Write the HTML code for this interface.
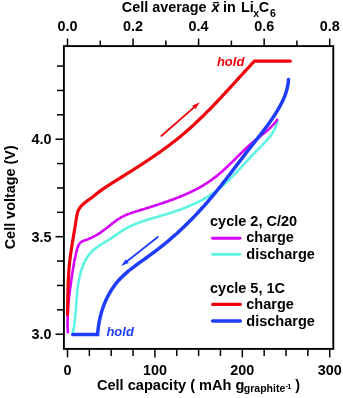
<!DOCTYPE html>
<html><head><meta charset="utf-8"><style>
html,body{margin:0;padding:0;background:#fff;}
body{width:343px;height:398px;overflow:hidden;}
svg{display:block;font-family:'Liberation Sans', Arial, sans-serif;}
</style></head><body>
<svg width="343" height="398" viewBox="0 0 343 398">
<rect width="343" height="398" fill="#fff"/>
<rect x="63.9" y="46.1" width="269.4" height="302.8" fill="none" stroke="#000" stroke-width="1.9"/>
<line x1="67.50" y1="348.9" x2="67.50" y2="357.40" stroke="#000" stroke-width="1.5"/>
<line x1="89.35" y1="348.9" x2="89.35" y2="355.90" stroke="#000" stroke-width="1.5"/>
<line x1="111.20" y1="348.9" x2="111.20" y2="355.90" stroke="#000" stroke-width="1.5"/>
<line x1="133.06" y1="348.9" x2="133.06" y2="355.90" stroke="#000" stroke-width="1.5"/>
<line x1="154.91" y1="348.9" x2="154.91" y2="357.40" stroke="#000" stroke-width="1.5"/>
<line x1="176.76" y1="348.9" x2="176.76" y2="355.90" stroke="#000" stroke-width="1.5"/>
<line x1="198.61" y1="348.9" x2="198.61" y2="355.90" stroke="#000" stroke-width="1.5"/>
<line x1="220.46" y1="348.9" x2="220.46" y2="355.90" stroke="#000" stroke-width="1.5"/>
<line x1="242.31" y1="348.9" x2="242.31" y2="357.40" stroke="#000" stroke-width="1.5"/>
<line x1="264.17" y1="348.9" x2="264.17" y2="355.90" stroke="#000" stroke-width="1.5"/>
<line x1="286.02" y1="348.9" x2="286.02" y2="355.90" stroke="#000" stroke-width="1.5"/>
<line x1="307.87" y1="348.9" x2="307.87" y2="355.90" stroke="#000" stroke-width="1.5"/>
<line x1="329.72" y1="348.9" x2="329.72" y2="357.40" stroke="#000" stroke-width="1.5"/>
<line x1="67.50" y1="46.1" x2="67.50" y2="38.60" stroke="#000" stroke-width="1.5"/>
<line x1="100.28" y1="46.1" x2="100.28" y2="40.60" stroke="#000" stroke-width="1.5"/>
<line x1="133.05" y1="46.1" x2="133.05" y2="38.60" stroke="#000" stroke-width="1.5"/>
<line x1="165.83" y1="46.1" x2="165.83" y2="40.60" stroke="#000" stroke-width="1.5"/>
<line x1="198.60" y1="46.1" x2="198.60" y2="38.60" stroke="#000" stroke-width="1.5"/>
<line x1="231.38" y1="46.1" x2="231.38" y2="40.60" stroke="#000" stroke-width="1.5"/>
<line x1="264.15" y1="46.1" x2="264.15" y2="38.60" stroke="#000" stroke-width="1.5"/>
<line x1="296.93" y1="46.1" x2="296.93" y2="40.60" stroke="#000" stroke-width="1.5"/>
<line x1="329.70" y1="46.1" x2="329.70" y2="38.60" stroke="#000" stroke-width="1.5"/>
<line x1="63.9" y1="334.20" x2="55.50" y2="334.20" stroke="#000" stroke-width="1.5"/>
<line x1="63.9" y1="309.82" x2="57.00" y2="309.82" stroke="#000" stroke-width="1.5"/>
<line x1="63.9" y1="285.45" x2="57.00" y2="285.45" stroke="#000" stroke-width="1.5"/>
<line x1="63.9" y1="261.07" x2="57.00" y2="261.07" stroke="#000" stroke-width="1.5"/>
<line x1="63.9" y1="236.70" x2="55.50" y2="236.70" stroke="#000" stroke-width="1.5"/>
<line x1="63.9" y1="212.32" x2="57.00" y2="212.32" stroke="#000" stroke-width="1.5"/>
<line x1="63.9" y1="187.95" x2="57.00" y2="187.95" stroke="#000" stroke-width="1.5"/>
<line x1="63.9" y1="163.57" x2="57.00" y2="163.57" stroke="#000" stroke-width="1.5"/>
<line x1="63.9" y1="139.20" x2="55.50" y2="139.20" stroke="#000" stroke-width="1.5"/>
<line x1="63.9" y1="114.82" x2="57.00" y2="114.82" stroke="#000" stroke-width="1.5"/>
<line x1="63.9" y1="90.45" x2="57.00" y2="90.45" stroke="#000" stroke-width="1.5"/>
<line x1="63.9" y1="66.07" x2="57.00" y2="66.07" stroke="#000" stroke-width="1.5"/>
<path d="M277.40,120.80 C277.32,121.14 277.11,122.20 276.94,122.88 C276.76,123.56 276.57,124.22 276.36,124.87 C276.14,125.53 275.91,126.16 275.67,126.79 C275.42,127.41 275.16,128.03 274.88,128.63 C274.60,129.23 274.31,129.82 274.00,130.40 C273.70,130.98 273.37,131.55 273.04,132.11 C272.70,132.67 272.36,133.22 272.00,133.77 C271.64,134.31 271.27,134.84 270.88,135.37 C270.50,135.90 270.11,136.41 269.71,136.93 C269.31,137.44 268.90,137.95 268.48,138.45 C268.06,138.95 267.63,139.44 267.20,139.93 C266.76,140.43 266.32,140.91 265.88,141.40 C265.43,141.88 264.98,142.36 264.52,142.84 C264.07,143.31 263.61,143.79 263.14,144.26 C262.68,144.73 262.21,145.20 261.74,145.68 C261.27,146.15 260.80,146.62 260.33,147.09 C259.86,147.56 259.38,148.03 258.91,148.50 C258.44,148.98 257.97,149.45 257.50,149.93 C257.03,150.41 256.56,150.89 256.09,151.37 C255.62,151.85 255.16,152.33 254.69,152.81 C254.22,153.30 253.76,153.79 253.30,154.27 C252.83,154.76 252.37,155.25 251.91,155.74 C251.44,156.23 250.98,156.72 250.52,157.21 C250.06,157.71 249.60,158.20 249.14,158.69 C248.68,159.19 248.22,159.68 247.76,160.18 C247.30,160.67 246.84,161.17 246.38,161.67 C245.92,162.16 245.46,162.66 245.00,163.16 C244.54,163.65 244.08,164.15 243.62,164.64 C243.16,165.14 242.70,165.64 242.24,166.13 C241.78,166.63 241.32,167.12 240.86,167.61 C240.40,168.11 239.94,168.60 239.47,169.09 C239.01,169.59 238.55,170.08 238.08,170.57 C237.62,171.06 237.15,171.55 236.69,172.03 C236.22,172.52 235.75,173.01 235.28,173.49 C234.81,173.98 234.34,174.46 233.87,174.94 C233.40,175.42 232.93,175.90 232.45,176.38 C231.98,176.85 231.50,177.33 231.03,177.80 C230.55,178.27 230.07,178.74 229.59,179.21 C229.10,179.67 228.62,180.14 228.14,180.60 C227.65,181.06 227.16,181.52 226.67,181.97 C226.18,182.43 225.69,182.88 225.20,183.33 C224.70,183.78 224.21,184.22 223.71,184.66 C223.21,185.11 222.71,185.54 222.20,185.98 C221.70,186.41 221.19,186.84 220.68,187.27 C220.17,187.69 219.66,188.12 219.15,188.53 C218.63,188.95 218.11,189.36 217.59,189.77 C217.07,190.18 216.54,190.58 216.01,190.98 C215.49,191.38 214.95,191.78 214.42,192.17 C213.88,192.55 213.35,192.94 212.80,193.32 C212.26,193.70 211.72,194.07 211.17,194.44 C210.62,194.81 210.06,195.17 209.51,195.53 C208.95,195.88 208.39,196.24 207.83,196.59 C207.27,196.93 206.70,197.28 206.13,197.61 C205.56,197.95 204.99,198.29 204.41,198.61 C203.84,198.94 203.26,199.27 202.68,199.59 C202.10,199.90 201.51,200.22 200.92,200.53 C200.34,200.84 199.75,201.15 199.16,201.45 C198.56,201.75 197.97,202.05 197.37,202.34 C196.77,202.64 196.17,202.92 195.57,203.21 C194.97,203.50 194.37,203.78 193.76,204.05 C193.15,204.33 192.54,204.61 191.93,204.88 C191.32,205.15 190.71,205.41 190.10,205.68 C189.48,205.94 188.87,206.20 188.25,206.45 C187.63,206.71 187.01,206.96 186.39,207.21 C185.77,207.46 185.14,207.71 184.52,207.95 C183.89,208.19 183.27,208.43 182.64,208.67 C182.01,208.91 181.38,209.14 180.76,209.37 C180.13,209.61 179.49,209.83 178.86,210.06 C178.23,210.29 177.60,210.51 176.96,210.73 C176.33,210.95 175.69,211.17 175.06,211.38 C174.42,211.60 173.79,211.81 173.15,212.02 C172.51,212.23 171.87,212.44 171.24,212.65 C170.60,212.86 169.96,213.06 169.32,213.26 C168.68,213.47 168.04,213.67 167.40,213.87 C166.76,214.06 166.12,214.26 165.48,214.46 C164.84,214.65 164.20,214.85 163.56,215.04 C162.92,215.23 162.28,215.42 161.64,215.61 C161.00,215.80 160.36,215.99 159.72,216.17 C159.08,216.36 158.44,216.54 157.81,216.73 C157.17,216.91 156.53,217.10 155.89,217.28 C155.25,217.47 154.62,217.65 153.98,217.83 C153.35,218.02 152.71,218.20 152.08,218.39 C151.44,218.58 150.81,218.76 150.18,218.95 C149.54,219.14 148.91,219.33 148.28,219.53 C147.65,219.72 147.02,219.91 146.39,220.11 C145.77,220.31 145.14,220.51 144.51,220.71 C143.89,220.92 143.27,221.12 142.64,221.33 C142.02,221.55 141.40,221.76 140.78,221.98 C140.16,222.20 139.55,222.42 138.93,222.65 C138.32,222.88 137.70,223.11 137.09,223.35 C136.48,223.59 135.87,223.83 135.26,224.08 C134.66,224.33 134.05,224.59 133.45,224.85 C132.85,225.12 132.24,225.39 131.65,225.66 C131.05,225.94 130.45,226.22 129.86,226.52 C129.27,226.81 128.68,227.11 128.09,227.42 C127.50,227.72 126.91,228.04 126.33,228.36 C125.75,228.69 125.17,229.02 124.59,229.36 C124.02,229.71 123.44,230.06 122.87,230.41 C122.29,230.77 121.72,231.13 121.15,231.50 C120.59,231.86 120.02,232.24 119.45,232.61 C118.88,232.99 118.32,233.37 117.75,233.75 C117.19,234.13 116.62,234.51 116.06,234.90 C115.49,235.28 114.93,235.67 114.37,236.06 C113.80,236.44 113.24,236.83 112.67,237.21 C112.10,237.60 111.54,237.98 110.97,238.36 C110.40,238.74 109.83,239.12 109.26,239.49 C108.69,239.86 108.12,240.23 107.54,240.59 C106.97,240.95 106.39,241.31 105.82,241.66 C105.24,242.02 104.66,242.37 104.08,242.71 C103.51,243.06 102.93,243.41 102.36,243.76 C101.79,244.11 101.22,244.45 100.66,244.80 C100.10,245.16 99.54,245.51 98.99,245.87 C98.45,246.23 97.90,246.59 97.37,246.97 C96.84,247.34 96.32,247.72 95.80,248.11 C95.29,248.50 94.79,248.89 94.31,249.31 C93.82,249.72 93.34,250.14 92.88,250.57 C92.42,251.01 91.97,251.45 91.54,251.91 C91.10,252.37 90.68,252.84 90.27,253.32 C89.85,253.80 89.46,254.29 89.07,254.80 C88.68,255.30 88.31,255.82 87.94,256.35 C87.58,256.88 87.23,257.42 86.89,257.97 C86.55,258.52 86.22,259.08 85.90,259.65 C85.58,260.22 85.28,260.79 84.98,261.38 C84.69,261.96 84.40,262.55 84.13,263.14 C83.85,263.73 83.59,264.33 83.34,264.93 C83.08,265.54 82.84,266.14 82.60,266.75 C82.37,267.37 82.15,267.98 81.93,268.60 C81.71,269.22 81.51,269.85 81.31,270.48 C81.11,271.10 80.92,271.74 80.74,272.37 C80.56,273.01 80.39,273.65 80.22,274.29 C80.05,274.93 79.90,275.58 79.75,276.23 C79.59,276.88 79.45,277.53 79.31,278.18 C79.17,278.84 79.04,279.50 78.92,280.16 C78.79,280.82 78.68,281.48 78.56,282.15 C78.45,282.81 78.34,283.48 78.24,284.15 C78.14,284.82 78.04,285.49 77.95,286.16 C77.85,286.84 77.77,287.51 77.68,288.19 C77.60,288.87 77.52,289.54 77.44,290.22 C77.37,290.90 77.29,291.58 77.22,292.27 C77.15,292.95 77.09,293.63 77.02,294.31 C76.96,295.00 76.90,295.68 76.84,296.37 C76.78,297.05 76.73,297.74 76.67,298.42 C76.61,299.11 76.56,299.79 76.51,300.48 C76.46,301.16 76.41,301.85 76.36,302.54 C76.31,303.22 76.26,303.91 76.21,304.59 C76.16,305.28 76.11,305.96 76.06,306.64 C76.01,307.33 75.96,308.01 75.91,308.69 C75.86,309.37 75.81,310.05 75.75,310.73 C75.70,311.41 75.65,312.09 75.59,312.76 C75.53,313.44 75.48,314.11 75.42,314.78 C75.36,315.46 75.29,316.13 75.23,316.79 C75.16,317.46 75.10,318.13 75.03,318.79 C74.96,319.46 74.88,320.12 74.80,320.78 C74.73,321.44 74.64,322.09 74.56,322.75 C74.47,323.40 74.38,324.05 74.29,324.70 C74.19,325.34 74.09,325.99 73.99,326.63 C73.88,327.27 73.77,327.91 73.66,328.54 C73.54,329.17 73.42,329.80 73.29,330.43 C73.16,331.05 72.96,331.98 72.89,332.29" fill="none" stroke="#5ef4e4" stroke-width="2.6" stroke-linecap="round" stroke-linejoin="round"/>
<path d="M67.80,332.30 C67.79,331.96 67.74,330.96 67.71,330.29 C67.68,329.62 67.66,328.95 67.64,328.27 C67.62,327.60 67.61,326.93 67.59,326.26 C67.58,325.59 67.58,324.92 67.57,324.25 C67.57,323.58 67.57,322.92 67.57,322.25 C67.57,321.58 67.58,320.91 67.59,320.24 C67.60,319.57 67.61,318.90 67.63,318.23 C67.65,317.56 67.67,316.90 67.69,316.23 C67.71,315.56 67.74,314.89 67.77,314.22 C67.80,313.56 67.83,312.89 67.87,312.22 C67.90,311.55 67.94,310.89 67.98,310.22 C68.02,309.55 68.06,308.89 68.11,308.22 C68.16,307.55 68.21,306.89 68.26,306.22 C68.31,305.56 68.36,304.89 68.42,304.22 C68.48,303.56 68.53,302.89 68.60,302.23 C68.66,301.56 68.72,300.90 68.79,300.23 C68.85,299.57 68.92,298.90 68.99,298.24 C69.06,297.57 69.13,296.91 69.20,296.25 C69.28,295.58 69.35,294.92 69.43,294.25 C69.51,293.59 69.59,292.93 69.67,292.26 C69.75,291.60 69.83,290.94 69.92,290.27 C70.00,289.61 70.09,288.95 70.17,288.29 C70.26,287.62 70.35,286.96 70.44,286.30 C70.53,285.64 70.62,284.98 70.71,284.31 C70.80,283.65 70.90,282.99 70.99,282.33 C71.09,281.67 71.18,281.01 71.28,280.35 C71.37,279.69 71.47,279.03 71.57,278.37 C71.67,277.70 71.77,277.04 71.87,276.38 C71.97,275.72 72.07,275.06 72.17,274.41 C72.27,273.75 72.37,273.09 72.47,272.43 C72.57,271.77 72.68,271.11 72.78,270.45 C72.88,269.79 72.99,269.13 73.10,268.48 C73.20,267.82 73.31,267.16 73.42,266.50 C73.53,265.85 73.64,265.19 73.76,264.53 C73.87,263.88 73.99,263.22 74.11,262.56 C74.23,261.91 74.35,261.25 74.48,260.60 C74.60,259.94 74.73,259.29 74.87,258.64 C75.00,257.98 75.14,257.33 75.28,256.68 C75.42,256.03 75.56,255.37 75.71,254.72 C75.86,254.07 76.01,253.42 76.17,252.77 C76.33,252.12 76.49,251.47 76.67,250.83 C76.84,250.18 77.00,249.53 77.20,248.89 C77.40,248.25 77.60,247.61 77.84,246.98 C78.09,246.36 78.35,245.73 78.67,245.14 C78.99,244.54 79.34,243.94 79.76,243.43 C80.18,242.92 80.67,242.44 81.19,242.05 C81.72,241.66 82.31,241.37 82.91,241.09 C83.51,240.82 84.15,240.63 84.78,240.41 C85.41,240.18 86.06,239.96 86.69,239.72 C87.32,239.48 87.95,239.21 88.57,238.95 C89.19,238.68 89.80,238.41 90.40,238.13 C91.00,237.86 91.59,237.58 92.17,237.30 C92.75,237.02 93.32,236.74 93.88,236.45 C94.45,236.16 95.01,235.87 95.56,235.57 C96.11,235.27 96.66,234.96 97.20,234.65 C97.75,234.33 98.29,234.01 98.83,233.67 C99.37,233.34 99.90,232.99 100.44,232.63 C100.98,232.28 101.52,231.91 102.06,231.52 C102.60,231.14 103.15,230.74 103.69,230.33 C104.24,229.93 104.79,229.50 105.34,229.08 C105.89,228.65 106.44,228.22 107.00,227.78 C107.55,227.34 108.11,226.89 108.67,226.44 C109.23,226.00 109.79,225.54 110.36,225.10 C110.92,224.65 111.48,224.20 112.05,223.75 C112.62,223.31 113.19,222.86 113.76,222.43 C114.33,221.99 114.91,221.56 115.48,221.14 C116.06,220.73 116.64,220.31 117.22,219.91 C117.80,219.52 118.38,219.13 118.96,218.76 C119.54,218.39 120.13,218.03 120.72,217.69 C121.30,217.35 121.89,217.03 122.48,216.72 C123.08,216.41 123.67,216.11 124.26,215.83 C124.86,215.55 125.45,215.28 126.05,215.03 C126.65,214.77 127.25,214.52 127.85,214.28 C128.45,214.05 129.05,213.82 129.66,213.60 C130.26,213.38 130.87,213.16 131.48,212.95 C132.08,212.75 132.69,212.54 133.30,212.34 C133.91,212.14 134.53,211.95 135.14,211.76 C135.75,211.56 136.37,211.37 136.99,211.18 C137.60,210.99 138.22,210.79 138.84,210.60 C139.46,210.41 140.08,210.22 140.70,210.03 C141.33,209.83 141.95,209.64 142.57,209.45 C143.20,209.26 143.82,209.06 144.45,208.87 C145.08,208.67 145.70,208.48 146.33,208.29 C146.96,208.09 147.59,207.90 148.22,207.70 C148.85,207.50 149.48,207.31 150.11,207.11 C150.74,206.91 151.37,206.72 152.01,206.52 C152.64,206.32 153.27,206.12 153.91,205.92 C154.54,205.71 155.17,205.51 155.81,205.31 C156.44,205.11 157.08,204.90 157.71,204.70 C158.34,204.49 158.98,204.28 159.61,204.07 C160.25,203.87 160.88,203.66 161.52,203.45 C162.15,203.23 162.79,203.02 163.42,202.81 C164.06,202.59 164.69,202.38 165.32,202.16 C165.96,201.94 166.59,201.72 167.23,201.50 C167.86,201.28 168.49,201.05 169.12,200.83 C169.76,200.60 170.39,200.38 171.02,200.15 C171.65,199.92 172.28,199.69 172.91,199.45 C173.54,199.22 174.17,198.98 174.80,198.74 C175.42,198.51 176.05,198.26 176.68,198.02 C177.30,197.78 177.93,197.53 178.55,197.28 C179.18,197.04 179.80,196.79 180.42,196.53 C181.04,196.28 181.66,196.02 182.28,195.76 C182.90,195.50 183.52,195.24 184.14,194.98 C184.75,194.71 185.37,194.44 185.98,194.17 C186.59,193.90 187.20,193.63 187.81,193.35 C188.42,193.07 189.03,192.79 189.64,192.51 C190.24,192.23 190.85,191.94 191.45,191.65 C192.05,191.36 192.66,191.07 193.25,190.77 C193.85,190.47 194.45,190.17 195.04,189.87 C195.64,189.56 196.23,189.25 196.82,188.94 C197.41,188.63 198.00,188.31 198.58,187.99 C199.17,187.67 199.75,187.35 200.33,187.02 C200.91,186.70 201.49,186.36 202.06,186.03 C202.64,185.69 203.21,185.35 203.78,185.01 C204.35,184.66 204.92,184.32 205.48,183.96 C206.05,183.61 206.61,183.25 207.17,182.89 C207.72,182.53 208.28,182.16 208.83,181.79 C209.38,181.42 209.93,181.05 210.48,180.67 C211.02,180.29 211.57,179.90 212.11,179.51 C212.65,179.12 213.18,178.73 213.71,178.33 C214.25,177.93 214.78,177.53 215.30,177.12 C215.83,176.71 216.35,176.29 216.87,175.88 C217.39,175.46 217.90,175.03 218.42,174.61 C218.93,174.18 219.44,173.75 219.95,173.31 C220.46,172.88 220.96,172.44 221.46,172.00 C221.97,171.56 222.47,171.11 222.97,170.66 C223.46,170.22 223.96,169.76 224.46,169.31 C224.95,168.86 225.44,168.40 225.93,167.94 C226.42,167.48 226.91,167.02 227.40,166.56 C227.89,166.09 228.37,165.63 228.86,165.16 C229.34,164.69 229.83,164.22 230.31,163.75 C230.79,163.28 231.27,162.81 231.75,162.34 C232.24,161.86 232.72,161.39 233.20,160.92 C233.68,160.44 234.16,159.97 234.63,159.49 C235.11,159.01 235.59,158.54 236.07,158.06 C236.55,157.59 237.03,157.11 237.51,156.63 C237.99,156.16 238.47,155.68 238.94,155.21 C239.42,154.73 239.90,154.26 240.39,153.79 C240.87,153.32 241.35,152.84 241.83,152.37 C242.31,151.90 242.79,151.43 243.28,150.97 C243.76,150.50 244.25,150.03 244.74,149.57 C245.22,149.11 245.71,148.64 246.20,148.18 C246.69,147.73 247.18,147.27 247.68,146.81 C248.17,146.36 248.66,145.91 249.16,145.46 C249.66,145.01 250.16,144.57 250.66,144.12 C251.16,143.68 251.67,143.24 252.17,142.81 C252.68,142.37 253.19,141.94 253.70,141.52 C254.21,141.09 254.73,140.67 255.24,140.25 C255.76,139.83 256.28,139.41 256.80,139.00 C257.32,138.58 257.84,138.17 258.36,137.76 C258.88,137.34 259.41,136.93 259.93,136.52 C260.45,136.11 260.97,135.70 261.49,135.29 C262.01,134.87 262.53,134.46 263.04,134.04 C263.56,133.63 264.07,133.21 264.59,132.79 C265.10,132.36 265.61,131.94 266.11,131.51 C266.61,131.08 267.12,130.64 267.61,130.20 C268.11,129.76 268.60,129.32 269.09,128.87 C269.57,128.42 270.06,127.96 270.53,127.49 C271.01,127.03 271.48,126.55 271.94,126.07 C272.40,125.59 272.86,125.10 273.30,124.60 C273.75,124.09 274.19,123.58 274.62,123.06 C275.05,122.54 275.48,122.01 275.89,121.47 C276.30,120.92 276.90,120.08 277.10,119.80" fill="none" stroke="#d602fc" stroke-width="2.6" stroke-linecap="round" stroke-linejoin="round"/>
<path d="M67.50,314.20 C67.51,313.87 67.53,312.88 67.54,312.22 C67.56,311.56 67.57,310.90 67.58,310.23 C67.59,309.57 67.61,308.91 67.62,308.24 C67.63,307.58 67.64,306.91 67.65,306.25 C67.66,305.58 67.67,304.91 67.68,304.25 C67.70,303.58 67.71,302.91 67.72,302.24 C67.73,301.58 67.74,300.91 67.75,300.24 C67.76,299.57 67.77,298.90 67.79,298.23 C67.80,297.56 67.81,296.89 67.82,296.22 C67.84,295.55 67.85,294.87 67.86,294.20 C67.88,293.53 67.89,292.86 67.91,292.19 C67.92,291.51 67.94,290.84 67.96,290.17 C67.97,289.50 67.99,288.82 68.01,288.15 C68.03,287.48 68.05,286.81 68.08,286.13 C68.10,285.46 68.12,284.79 68.14,284.11 C68.17,283.44 68.20,282.77 68.22,282.10 C68.25,281.42 68.28,280.75 68.31,280.08 C68.34,279.41 68.37,278.73 68.41,278.06 C68.44,277.39 68.48,276.72 68.52,276.05 C68.55,275.37 68.59,274.70 68.64,274.03 C68.68,273.36 68.72,272.69 68.77,272.02 C68.82,271.35 68.87,270.68 68.92,270.01 C68.97,269.34 69.02,268.67 69.08,268.01 C69.13,267.34 69.19,266.67 69.26,266.00 C69.32,265.34 69.38,264.67 69.45,264.01 C69.52,263.34 69.59,262.68 69.66,262.01 C69.73,261.35 69.81,260.68 69.88,260.02 C69.96,259.36 70.04,258.70 70.13,258.03 C70.21,257.37 70.30,256.71 70.38,256.05 C70.47,255.39 70.56,254.73 70.65,254.07 C70.75,253.41 70.84,252.75 70.94,252.10 C71.03,251.44 71.13,250.78 71.23,250.12 C71.33,249.46 71.43,248.80 71.53,248.15 C71.63,247.49 71.73,246.83 71.84,246.18 C71.94,245.52 72.05,244.86 72.15,244.21 C72.26,243.55 72.36,242.89 72.47,242.24 C72.58,241.58 72.69,240.92 72.80,240.27 C72.90,239.61 73.01,238.96 73.12,238.30 C73.23,237.64 73.34,236.99 73.45,236.33 C73.56,235.67 73.67,235.02 73.78,234.36 C73.88,233.70 73.99,233.05 74.10,232.39 C74.21,231.73 74.32,231.07 74.42,230.42 C74.53,229.76 74.64,229.10 74.75,228.44 C74.85,227.78 74.96,227.12 75.07,226.46 C75.17,225.81 75.28,225.15 75.39,224.49 C75.50,223.83 75.61,223.16 75.71,222.50 C75.82,221.84 75.93,221.18 76.04,220.52 C76.15,219.85 76.27,219.19 76.38,218.53 C76.49,217.86 76.60,217.20 76.72,216.53 C76.84,215.87 76.95,215.20 77.09,214.55 C77.23,213.89 77.37,213.23 77.56,212.60 C77.75,211.96 77.96,211.34 78.22,210.73 C78.48,210.13 78.78,209.54 79.12,208.97 C79.45,208.40 79.82,207.85 80.22,207.32 C80.62,206.78 81.05,206.27 81.50,205.77 C81.95,205.27 82.43,204.79 82.92,204.33 C83.41,203.87 83.93,203.42 84.45,202.99 C84.97,202.56 85.51,202.15 86.05,201.75 C86.59,201.35 87.14,200.96 87.69,200.58 C88.24,200.19 88.80,199.81 89.34,199.43 C89.89,199.04 90.43,198.66 90.97,198.26 C91.51,197.87 92.03,197.46 92.56,197.05 C93.08,196.64 93.60,196.22 94.11,195.81 C94.63,195.39 95.15,194.97 95.66,194.55 C96.18,194.13 96.70,193.71 97.22,193.29 C97.75,192.88 98.28,192.47 98.81,192.06 C99.35,191.65 99.89,191.25 100.43,190.85 C100.98,190.45 101.53,190.05 102.08,189.66 C102.63,189.27 103.19,188.88 103.75,188.49 C104.31,188.11 104.88,187.72 105.44,187.34 C106.01,186.96 106.58,186.59 107.15,186.21 C107.73,185.84 108.30,185.46 108.88,185.09 C109.45,184.72 110.03,184.35 110.61,183.99 C111.19,183.62 111.77,183.26 112.35,182.89 C112.93,182.53 113.51,182.16 114.09,181.80 C114.67,181.44 115.24,181.08 115.82,180.72 C116.40,180.36 116.98,180.00 117.55,179.64 C118.13,179.28 118.71,178.92 119.28,178.56 C119.86,178.20 120.43,177.84 121.00,177.48 C121.58,177.13 122.15,176.77 122.72,176.41 C123.29,176.05 123.86,175.70 124.43,175.34 C125.00,174.98 125.57,174.63 126.13,174.27 C126.70,173.92 127.27,173.56 127.83,173.20 C128.40,172.85 128.96,172.49 129.53,172.13 C130.09,171.78 130.66,171.42 131.22,171.07 C131.78,170.71 132.34,170.36 132.90,170.00 C133.46,169.64 134.02,169.29 134.58,168.93 C135.14,168.57 135.70,168.22 136.25,167.86 C136.81,167.50 137.37,167.15 137.92,166.79 C138.48,166.43 139.03,166.08 139.58,165.72 C140.14,165.36 140.69,165.00 141.24,164.64 C141.79,164.28 142.34,163.92 142.89,163.56 C143.44,163.21 143.99,162.85 144.54,162.48 C145.09,162.12 145.63,161.76 146.18,161.40 C146.73,161.04 147.27,160.68 147.82,160.31 C148.36,159.95 148.91,159.59 149.45,159.22 C149.99,158.86 150.53,158.49 151.07,158.13 C151.62,157.76 152.16,157.39 152.70,157.03 C153.24,156.66 153.77,156.29 154.31,155.92 C154.85,155.55 155.39,155.18 155.92,154.81 C156.46,154.44 156.99,154.06 157.53,153.69 C158.06,153.32 158.60,152.94 159.13,152.57 C159.66,152.19 160.19,151.81 160.72,151.43 C161.26,151.06 161.79,150.68 162.32,150.30 C162.84,149.92 163.37,149.53 163.90,149.15 C164.43,148.77 164.96,148.38 165.48,148.00 C166.01,147.61 166.53,147.22 167.06,146.83 C167.58,146.44 168.11,146.05 168.63,145.66 C169.15,145.27 169.67,144.88 170.19,144.48 C170.71,144.09 171.24,143.69 171.75,143.29 C172.27,142.89 172.79,142.49 173.31,142.09 C173.83,141.69 174.35,141.29 174.86,140.88 C175.38,140.48 175.89,140.07 176.41,139.66 C176.92,139.25 177.44,138.84 177.95,138.43 C178.46,138.02 178.97,137.60 179.49,137.19 C180.00,136.77 180.51,136.35 181.02,135.93 C181.53,135.51 182.04,135.09 182.54,134.66 C183.05,134.24 183.56,133.81 184.07,133.38 C184.57,132.95 185.08,132.52 185.58,132.09 C186.09,131.66 186.59,131.22 187.09,130.78 C187.60,130.34 188.10,129.90 188.60,129.46 C189.10,129.02 189.61,128.57 190.11,128.13 C190.61,127.68 191.10,127.23 191.60,126.78 C192.10,126.33 192.60,125.87 193.10,125.42 C193.59,124.96 194.09,124.50 194.59,124.04 C195.08,123.58 195.58,123.12 196.07,122.66 C196.56,122.20 197.06,121.73 197.55,121.26 C198.04,120.80 198.53,120.33 199.02,119.86 C199.51,119.39 200.00,118.91 200.49,118.44 C200.98,117.97 201.47,117.49 201.96,117.01 C202.45,116.54 202.93,116.06 203.42,115.58 C203.91,115.10 204.39,114.62 204.88,114.14 C205.36,113.65 205.85,113.17 206.33,112.69 C206.81,112.20 207.29,111.71 207.78,111.23 C208.26,110.74 208.74,110.25 209.22,109.76 C209.70,109.27 210.18,108.78 210.66,108.29 C211.13,107.80 211.61,107.31 212.09,106.81 C212.57,106.32 213.04,105.83 213.52,105.33 C213.99,104.84 214.47,104.34 214.94,103.84 C215.42,103.35 215.89,102.85 216.36,102.35 C216.84,101.86 217.31,101.36 217.78,100.86 C218.25,100.36 218.72,99.86 219.19,99.36 C219.66,98.86 220.13,98.36 220.60,97.86 C221.07,97.36 221.53,96.86 222.00,96.36 C222.47,95.86 222.93,95.36 223.40,94.86 C223.86,94.36 224.33,93.86 224.79,93.35 C225.26,92.85 225.72,92.35 226.18,91.85 C226.65,91.35 227.11,90.85 227.57,90.35 C228.03,89.85 228.49,89.35 228.95,88.85 C229.41,88.35 229.87,87.84 230.33,87.34 C230.78,86.84 231.24,86.35 231.70,85.85 C232.15,85.35 232.61,84.85 233.07,84.35 C233.52,83.85 233.98,83.35 234.43,82.86 C234.88,82.36 235.34,81.86 235.79,81.37 C236.24,80.87 236.69,80.38 237.14,79.88 C237.60,79.39 238.05,78.89 238.50,78.40 C238.95,77.91 239.39,77.42 239.84,76.93 C240.29,76.43 240.74,75.95 241.19,75.46 C241.63,74.97 242.08,74.48 242.52,73.99 C242.97,73.51 243.41,73.02 243.86,72.54 C244.30,72.05 244.75,71.57 245.19,71.09 C245.63,70.61 246.07,70.13 246.52,69.65 C246.96,69.17 247.40,68.69 247.84,68.22 C248.28,67.74 248.72,67.27 249.16,66.79 C249.60,66.32 250.03,65.85 250.47,65.38 C250.91,64.91 251.34,64.44 251.78,63.98 C252.22,63.51 252.65,63.05 253.09,62.58 C253.52,62.12 254.17,61.43 254.39,61.20 L290.3,61.2" fill="none" stroke="#f0020c" stroke-width="3.2" stroke-linecap="round" stroke-linejoin="miter"/>
<path d="M288.51,79.50 C288.48,79.84 288.42,80.86 288.35,81.53 C288.29,82.20 288.21,82.87 288.11,83.53 C288.02,84.19 287.91,84.85 287.79,85.51 C287.67,86.16 287.54,86.81 287.39,87.46 C287.25,88.11 287.09,88.75 286.92,89.39 C286.76,90.03 286.58,90.66 286.39,91.30 C286.20,91.93 285.99,92.56 285.78,93.18 C285.57,93.81 285.35,94.43 285.12,95.05 C284.89,95.67 284.65,96.29 284.40,96.90 C284.15,97.51 283.90,98.12 283.63,98.73 C283.37,99.33 283.09,99.94 282.81,100.54 C282.53,101.14 282.24,101.73 281.95,102.33 C281.66,102.92 281.35,103.51 281.05,104.10 C280.74,104.69 280.43,105.28 280.11,105.86 C279.79,106.44 279.47,107.02 279.14,107.60 C278.81,108.18 278.48,108.76 278.14,109.33 C277.80,109.90 277.46,110.48 277.12,111.04 C276.78,111.61 276.43,112.18 276.08,112.74 C275.73,113.31 275.37,113.87 275.01,114.43 C274.65,114.99 274.29,115.55 273.93,116.11 C273.56,116.66 273.20,117.22 272.83,117.77 C272.46,118.32 272.08,118.87 271.71,119.42 C271.33,119.97 270.95,120.52 270.57,121.07 C270.19,121.61 269.81,122.16 269.42,122.70 C269.03,123.24 268.64,123.78 268.25,124.32 C267.86,124.86 267.47,125.40 267.08,125.94 C266.68,126.48 266.28,127.01 265.88,127.55 C265.49,128.08 265.09,128.62 264.68,129.15 C264.28,129.68 263.88,130.22 263.47,130.75 C263.07,131.28 262.66,131.81 262.25,132.34 C261.85,132.87 261.44,133.40 261.03,133.93 C260.62,134.46 260.21,134.98 259.79,135.51 C259.38,136.04 258.97,136.56 258.56,137.09 C258.14,137.62 257.73,138.14 257.31,138.67 C256.90,139.19 256.49,139.72 256.07,140.25 C255.65,140.77 255.24,141.30 254.82,141.82 C254.41,142.35 253.99,142.87 253.58,143.40 C253.16,143.92 252.74,144.45 252.33,144.97 C251.91,145.50 251.50,146.02 251.08,146.55 C250.67,147.07 250.26,147.60 249.84,148.13 C249.43,148.65 249.02,149.18 248.60,149.71 C248.19,150.23 247.78,150.76 247.37,151.29 C246.96,151.82 246.55,152.35 246.14,152.88 C245.73,153.40 245.32,153.93 244.91,154.46 C244.51,154.99 244.10,155.52 243.69,156.05 C243.28,156.59 242.88,157.12 242.47,157.65 C242.07,158.18 241.66,158.71 241.25,159.24 C240.85,159.77 240.44,160.30 240.04,160.84 C239.63,161.37 239.23,161.90 238.82,162.43 C238.42,162.96 238.02,163.50 237.61,164.03 C237.21,164.56 236.80,165.09 236.40,165.63 C235.99,166.16 235.59,166.69 235.19,167.22 C234.78,167.75 234.38,168.29 233.97,168.82 C233.57,169.35 233.16,169.88 232.76,170.42 C232.36,170.95 231.95,171.48 231.55,172.01 C231.14,172.54 230.73,173.07 230.33,173.60 C229.92,174.14 229.52,174.67 229.11,175.20 C228.70,175.73 228.30,176.26 227.89,176.79 C227.48,177.32 227.07,177.85 226.67,178.38 C226.26,178.91 225.85,179.44 225.44,179.96 C225.03,180.49 224.62,181.02 224.21,181.55 C223.80,182.08 223.38,182.60 222.97,183.13 C222.56,183.66 222.14,184.18 221.73,184.71 C221.32,185.23 220.90,185.76 220.48,186.28 C220.07,186.81 219.65,187.33 219.23,187.85 C218.81,188.37 218.40,188.90 217.97,189.42 C217.55,189.94 217.13,190.46 216.71,190.98 C216.29,191.50 215.86,192.02 215.44,192.54 C215.01,193.06 214.59,193.57 214.16,194.09 C213.73,194.61 213.31,195.12 212.88,195.64 C212.45,196.15 212.02,196.67 211.59,197.18 C211.15,197.69 210.72,198.21 210.29,198.72 C209.85,199.23 209.42,199.74 208.98,200.25 C208.55,200.76 208.11,201.26 207.67,201.77 C207.23,202.28 206.79,202.78 206.35,203.29 C205.91,203.79 205.47,204.29 205.03,204.80 C204.59,205.30 204.14,205.80 203.70,206.30 C203.25,206.80 202.81,207.30 202.36,207.79 C201.91,208.29 201.46,208.79 201.01,209.28 C200.56,209.78 200.11,210.27 199.66,210.76 C199.21,211.25 198.76,211.74 198.30,212.23 C197.85,212.72 197.39,213.21 196.94,213.69 C196.48,214.18 196.02,214.66 195.56,215.15 C195.10,215.63 194.64,216.11 194.18,216.59 C193.72,217.07 193.26,217.55 192.80,218.02 C192.33,218.50 191.87,218.97 191.40,219.45 C190.94,219.92 190.47,220.39 190.00,220.86 C189.53,221.33 189.06,221.80 188.59,222.27 C188.12,222.74 187.65,223.20 187.18,223.67 C186.71,224.13 186.23,224.59 185.76,225.06 C185.28,225.52 184.80,225.98 184.32,226.44 C183.85,226.89 183.37,227.35 182.89,227.81 C182.41,228.26 181.92,228.72 181.44,229.17 C180.96,229.62 180.47,230.07 179.99,230.52 C179.50,230.97 179.01,231.42 178.52,231.87 C178.04,232.31 177.54,232.76 177.05,233.20 C176.56,233.65 176.07,234.09 175.57,234.53 C175.08,234.97 174.58,235.41 174.09,235.85 C173.59,236.29 173.09,236.72 172.59,237.16 C172.09,237.60 171.59,238.03 171.09,238.46 C170.58,238.90 170.08,239.33 169.57,239.76 C169.07,240.19 168.56,240.61 168.05,241.04 C167.54,241.47 167.03,241.90 166.52,242.32 C166.01,242.74 165.50,243.17 164.98,243.59 C164.47,244.01 163.95,244.43 163.43,244.85 C162.91,245.27 162.39,245.69 161.87,246.10 C161.35,246.52 160.83,246.94 160.31,247.35 C159.78,247.76 159.26,248.18 158.73,248.59 C158.20,249.00 157.67,249.41 157.14,249.82 C156.61,250.23 156.08,250.63 155.54,251.04 C155.01,251.44 154.47,251.85 153.94,252.25 C153.40,252.66 152.86,253.06 152.32,253.46 C151.78,253.86 151.24,254.26 150.69,254.66 C150.15,255.06 149.60,255.45 149.05,255.85 C148.51,256.25 147.96,256.64 147.41,257.04 C146.86,257.43 146.31,257.82 145.75,258.22 C145.20,258.61 144.65,259.00 144.10,259.40 C143.54,259.79 142.99,260.18 142.44,260.57 C141.89,260.97 141.33,261.36 140.78,261.75 C140.23,262.15 139.68,262.54 139.13,262.94 C138.58,263.34 138.03,263.73 137.48,264.13 C136.93,264.53 136.39,264.93 135.84,265.33 C135.30,265.73 134.76,266.14 134.22,266.54 C133.68,266.95 133.14,267.36 132.61,267.77 C132.08,268.18 131.54,268.59 131.02,269.01 C130.49,269.42 129.97,269.84 129.45,270.26 C128.93,270.69 128.41,271.11 127.90,271.54 C127.38,271.97 126.88,272.40 126.37,272.84 C125.87,273.28 125.37,273.72 124.88,274.16 C124.39,274.61 123.90,275.06 123.41,275.51 C122.93,275.97 122.45,276.43 121.98,276.89 C121.51,277.36 121.05,277.83 120.59,278.30 C120.13,278.78 119.68,279.26 119.24,279.74 C118.79,280.23 118.35,280.72 117.92,281.22 C117.49,281.72 117.07,282.22 116.65,282.73 C116.24,283.24 115.83,283.76 115.42,284.28 C115.02,284.80 114.63,285.33 114.24,285.86 C113.85,286.39 113.47,286.93 113.09,287.47 C112.72,288.01 112.35,288.56 111.99,289.11 C111.63,289.66 111.28,290.22 110.93,290.78 C110.59,291.34 110.25,291.91 109.91,292.48 C109.58,293.05 109.25,293.62 108.94,294.20 C108.62,294.78 108.30,295.36 108.00,295.95 C107.69,296.54 107.40,297.13 107.10,297.73 C106.81,298.32 106.53,298.92 106.25,299.52 C105.97,300.13 105.70,300.73 105.43,301.34 C105.17,301.95 104.91,302.56 104.66,303.18 C104.41,303.80 104.16,304.42 103.93,305.04 C103.69,305.66 103.46,306.29 103.23,306.92 C103.01,307.54 102.79,308.18 102.58,308.81 C102.37,309.44 102.16,310.08 101.96,310.72 C101.77,311.36 101.57,312.00 101.39,312.64 C101.20,313.29 101.02,313.93 100.85,314.58 C100.68,315.23 100.52,315.88 100.36,316.53 C100.20,317.18 100.04,317.83 99.90,318.49 C99.75,319.14 99.61,319.80 99.48,320.46 C99.35,321.12 99.22,321.78 99.10,322.44 C98.98,323.10 98.86,323.76 98.76,324.42 C98.65,325.08 98.55,325.75 98.45,326.41 C98.36,327.08 98.27,327.74 98.19,328.41 C98.11,329.07 98.03,329.74 97.96,330.41 C97.89,331.08 97.83,331.74 97.77,332.41 C97.71,333.08 97.64,334.08 97.62,334.41 L72.7,334.4" fill="none" stroke="#1e3cfc" stroke-width="3.5" stroke-linecap="round" stroke-linejoin="miter"/>
<line x1="161.3" y1="136.0" x2="194.54" y2="106.82" stroke="#f0020c" stroke-width="1.8" stroke-linecap="round"/>
<polygon points="199.8,102.2 195.37,109.28 192.20,105.67" fill="#f0020c"/>
<line x1="157.8" y1="237.0" x2="126.50" y2="261.67" stroke="#1e3cfc" stroke-width="1.8" stroke-linecap="round"/>
<polygon points="121.0,266.0 125.80,259.16 128.77,262.93" fill="#1e3cfc"/>
<line x1="212.5" y1="238.2" x2="240" y2="238.2" stroke="#d602fc" stroke-width="2.9" stroke-linecap="round"/>
<line x1="212.5" y1="254.4" x2="240" y2="254.4" stroke="#5ef4e4" stroke-width="2.9" stroke-linecap="round"/>
<line x1="212.6" y1="304.3" x2="240.3" y2="304.3" stroke="#f0020c" stroke-width="3.2" stroke-linecap="round"/>
<line x1="212.6" y1="320.9" x2="240.3" y2="320.9" stroke="#1e3cfc" stroke-width="3.5" stroke-linecap="round"/>
<line x1="213.2" y1="2.6" x2="218.9" y2="2.6" stroke="#000" stroke-width="1.3"/>
<text x="67.50" y="30.95" font-size="14.4" text-anchor="middle" font-weight="bold" font-style="normal" fill="#000" >0.0</text>
<text x="133.05" y="30.95" font-size="14.4" text-anchor="middle" font-weight="bold" font-style="normal" fill="#000" >0.2</text>
<text x="198.60" y="30.95" font-size="14.4" text-anchor="middle" font-weight="bold" font-style="normal" fill="#000" >0.4</text>
<text x="264.15" y="30.95" font-size="14.4" text-anchor="middle" font-weight="bold" font-style="normal" fill="#000" >0.6</text>
<text x="329.70" y="30.95" font-size="14.4" text-anchor="middle" font-weight="bold" font-style="normal" fill="#000" >0.8</text>
<text x="51.6" y="339.36" font-size="14.4" text-anchor="end" font-weight="bold" font-style="normal" fill="#000" >3.0</text>
<text x="51.6" y="241.86" font-size="14.4" text-anchor="end" font-weight="bold" font-style="normal" fill="#000" >3.5</text>
<text x="51.6" y="144.36" font-size="14.4" text-anchor="end" font-weight="bold" font-style="normal" fill="#000" >4.0</text>
<text x="67.50" y="375.4" font-size="14.4" text-anchor="middle" font-weight="bold" font-style="normal" fill="#000" >0</text>
<text x="154.91" y="375.4" font-size="14.4" text-anchor="middle" font-weight="bold" font-style="normal" fill="#000" >100</text>
<text x="242.31" y="375.4" font-size="14.4" text-anchor="middle" font-weight="bold" font-style="normal" fill="#000" >200</text>
<text x="329.72" y="375.4" font-size="14.4" text-anchor="middle" font-weight="bold" font-style="normal" fill="#000" >300</text>
<text x="121.8" y="12.0" font-size="14.4" text-anchor="start" font-weight="bold" font-style="normal" fill="#000" >Cell average</text>
<text x="211.6" y="12.0" font-size="14.4" text-anchor="start" font-weight="bold" font-style="italic" fill="#000" >x</text>
<text x="222.9" y="12.0" font-size="14.4" text-anchor="start" font-weight="bold" font-style="normal" fill="#000" >in</text>
<text x="241.0" y="12.0" font-size="14.4" text-anchor="start" font-weight="bold" font-style="normal" fill="#000" >Li</text>
<text x="253.3" y="16.6" font-size="10.6" text-anchor="start" font-weight="bold" font-style="normal" fill="#000" >x</text>
<text x="258.8" y="12.0" font-size="14.4" text-anchor="start" font-weight="bold" font-style="normal" fill="#000" >C</text>
<text x="270.0" y="16.6" font-size="10.6" text-anchor="start" font-weight="bold" font-style="normal" fill="#000" >6</text>
<text x="96.9" y="389.7" font-size="14.6" font-weight="bold">Cell capacity ( mAh g</text>
<text x="243.8" y="392.0" font-size="10.5" text-anchor="start" font-weight="bold" font-style="normal" fill="#000" >graphite</text>
<text x="285.4" y="388.4" font-size="7.2" text-anchor="start" font-weight="bold" font-style="normal" fill="#000" >-</text>
<text x="287.29999999999995" y="389.4" font-size="7.2" text-anchor="start" font-weight="bold" font-style="normal" fill="#000" >1</text>
<text x="295.3" y="389.7" font-size="14.4" text-anchor="start" font-weight="bold" font-style="normal" fill="#000" >)</text>
<text transform="translate(15.2,197.3) rotate(-90)" x="0" y="0" font-size="14.4" font-weight="bold" text-anchor="middle">Cell voltage (V)</text>
<text x="210.0" y="225.9" font-size="14.5" text-anchor="start" font-weight="bold" font-style="normal" fill="#000" >cycle 2, C/20</text>
<text x="246.3" y="242.2" font-size="14.5" text-anchor="start" font-weight="bold" font-style="normal" fill="#000" >charge</text>
<text x="246.3" y="258.9" font-size="14.5" text-anchor="start" font-weight="bold" font-style="normal" fill="#000" >discharge</text>
<text x="210.0" y="292.8" font-size="14.5" text-anchor="start" font-weight="bold" font-style="normal" fill="#000" >cycle 5, 1C</text>
<text x="246.3" y="309.3" font-size="14.5" text-anchor="start" font-weight="bold" font-style="normal" fill="#000" >charge</text>
<text x="246.3" y="325.6" font-size="14.5" text-anchor="start" font-weight="bold" font-style="normal" fill="#000" >discharge</text>
<text x="216.9" y="65.8" font-size="13.0" text-anchor="start" font-weight="bold" font-style="italic" fill="#f0020c" >hold</text>
<text x="106.4" y="336" font-size="13.0" text-anchor="start" font-weight="bold" font-style="italic" fill="#1e3cfc" >hold</text>
</svg>
</body></html>
